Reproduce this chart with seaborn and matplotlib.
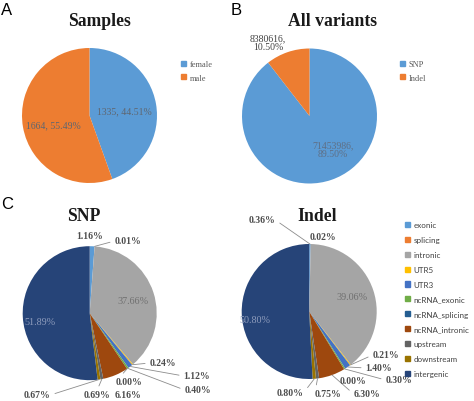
import numpy as np
import matplotlib
matplotlib.use("Agg")
import matplotlib.pyplot as plt
from matplotlib.patches import Patch
import seaborn as sns

# ---------------- data ----------------
sex_labels = ["female", "male"]
sex_counts = [1335, 1664]

var_labels = ["SNP", "Indel"]
var_counts = [71453986, 8380616]

region_labels = ["exonic", "splicing", "intronic", "UTR5", "UTR3", "ncRNA_exonic",
                 "ncRNA_splicing", "ncRNA_intronic", "upstream", "downstream", "intergenic"]
snp_pct = [1.16, 0.01, 37.66, 0.24, 1.12, 0.40, 0.00, 6.16, 0.69, 0.67, 51.89]
indel_pct = [0.36, 0.02, 39.06, 0.21, 1.40, 0.30, 0.00, 6.30, 0.75, 0.80, 50.80]

# ---------------- style ----------------
sns.set_theme(style="white")
plt.rcParams["font.family"] = ["Liberation Serif", "DejaVu Serif"]

pal2 = sns.color_palette(["#5B9BD5", "#ED7D31"])
pal11 = sns.color_palette(["#5B9BD5", "#ED7D31", "#A5A5A5", "#FFC000", "#4472C4", "#70AD47",
                           "#255E91", "#9E480E", "#636363", "#997300", "#264478"])

W, H = 474, 402
fig = plt.figure(figsize=(W / 100, H / 100), dpi=100)
fig.patch.set_facecolor("white")


def fp(x, y):
    return (x / W, 1 - y / H)


def pie_axes(cx, cy, r):
    ax = fig.add_axes([(cx - r) / W, 1 - (cy + r) / H, 2 * r / W, 2 * r / H])
    return ax


def draw_pie(ax, values, colors):
    ax.pie(values, colors=colors, startangle=90, counterclock=False, radius=1,
           wedgeprops=dict(linewidth=0))
    ax.set_xlim(-1, 1)
    ax.set_ylim(-1, 1)
    ax.set_aspect("equal")
    ax.axis("off")


def mid_points(values):
    v = np.asarray(values, dtype=float)
    mid = np.cumsum(v) - v / 2
    th = np.deg2rad(90 - 360 * mid / v.sum())
    return np.cos(th), np.sin(th)


title_kw = dict(fontsize=12.7, fontweight="bold", color="#1a1a1a", ha="center", va="center")
letter_kw = dict(fontsize=12, family=["Liberation Sans"], color="black", ha="left", va="top")

# ---------------- A ----------------
fig.text(*fp(1, 3), "A", **letter_kw)
fig.text(*fp(99, 21), "Samples", **title_kw)
axA = pie_axes(89.5, 116.5, 67.5)
draw_pie(axA, sex_counts, pal2)
totA = sum(sex_counts)
posA = [(124, 112), (53, 126)]
for n, (x, y) in zip(sex_counts, posA):
    fig.text(*fp(x, y), f"{n}, {100 * n / totA:.2f}%", fontsize=7, color="#5f6670",
             ha="center", va="center")
legA = fig.legend(handles=[Patch(color=c) for c in pal2], labels=sex_labels,
                  loc="upper left", bbox_to_anchor=fp(178, 58), frameon=False,
                  fontsize=6, handlelength=0.6, handleheight=0.6, handletextpad=0.4,
                  labelspacing=0.65, borderaxespad=0)
for t in legA.get_texts():
    t.set_color("#595959")

# ---------------- B ----------------
fig.text(*fp(231, 3), "B", **letter_kw)
fig.text(*fp(332, 21), "All variants", **title_kw)
axB = pie_axes(309.5, 117, 67.5)
draw_pie(axB, var_counts, pal2)
totB = sum(var_counts)
posB = [(333, 150), (268, 43)]
colB = ["#5f6f85", "#404040"]
for n, (x, y), c in zip(var_counts, posB, colB):
    fig.text(*fp(x, y), f"{n},\n{100 * n / totB:.2f}%", fontsize=7, color=c,
             ha="center", va="center", linespacing=1.0)
legB = fig.legend(handles=[Patch(color=c) for c in pal2], labels=var_labels,
                  loc="upper left", bbox_to_anchor=fp(397, 58), frameon=False,
                  fontsize=6, handlelength=0.6, handleheight=0.6, handletextpad=0.4,
                  labelspacing=0.65, borderaxespad=0)
for t in legB.get_texts():
    t.set_color("#595959")

# ---------------- C ----------------
fig.text(*fp(1, 197), "C", **letter_kw)


def region_pie(cx, cy, r, title, tpos, values, layout):
    fig.text(*fp(*tpos), title, **title_kw)
    ax = pie_axes(cx, cy, r)
    draw_pie(ax, values, pal11)
    xs, ys = mid_points(values)
    for i, v in enumerate(values):
        kind, x, y, rel = layout[i]
        txt = f"{v:.2f}%"
        if kind == "in":
            fig.text(*fp(x, y), txt, fontsize=7.3, color=rel, ha="center", va="center")
        elif kind == "out":
            fig.text(*fp(x, y), txt, fontsize=7, color="#4d4d4d", fontweight="bold",
                     ha="center", va="center")
        else:
            ax.annotate(txt, xy=(xs[i], ys[i]), xycoords="data",
                        xytext=fp(x, y), textcoords="figure fraction",
                        fontsize=7, color="#4d4d4d", fontweight="bold",
                        ha="center", va="center", annotation_clip=False,
                        arrowprops=dict(arrowstyle="-", color="#8c8c8c", lw=0.6,
                                        shrinkA=1, shrinkB=0, relpos=rel))
    return ax


snp_layout = [
    ("out", 90, 237, None),
    ("line", 128, 242, (0, 0.5)),
    ("in", 133, 302, "#707070"),
    ("line", 163, 364, (0, 0.5)),
    ("line", 197, 377, (0, 0.5)),
    ("line", 198, 391, (0, 0.5)),
    ("line", 129, 383, (0, 0.5)),
    ("out", 128, 396, None),
    ("line", 97, 396, (0.5, 1)),
    ("line", 37, 396, (1, 0.5)),
    ("in", 40, 323, "#8e9cbc"),
]
indel_layout = [
    ("line", 262, 221, (1, 0.5)),
    ("out", 323, 238, None),
    ("in", 352, 298, "#707070"),
    ("line", 386, 356, (0, 0.5)),
    ("line", 379, 369, (0, 0.5)),
    ("line", 399, 381, (0, 0.5)),
    ("out", 353, 382, None),
    ("line", 367, 395, (0, 0.5)),
    ("line", 328, 395, (0, 0.5)),
    ("line", 290, 394, (1, 0.5)),
    ("in", 255, 321, "#8e9cbc"),
]

region_pie(89.7, 314.2, 67, "SNP", (84, 217), snp_pct, snp_layout)
region_pie(309.2, 312.5, 67.5, "Indel", (317, 217), indel_pct, indel_layout)

legC = fig.legend(handles=[Patch(color=c) for c in pal11], labels=region_labels,
                  loc="upper left", bbox_to_anchor=fp(402, 219), frameon=False,
                  prop=dict(family=["Lato", "DejaVu Sans"], size=5.8),
                  handlelength=0.6, handleheight=0.6, handletextpad=0.4,
                  labelspacing=0.98, borderaxespad=0)
for t in legC.get_texts():
    t.set_color("#404040")

fig.savefig("out.png", dpi=100, facecolor="white")
